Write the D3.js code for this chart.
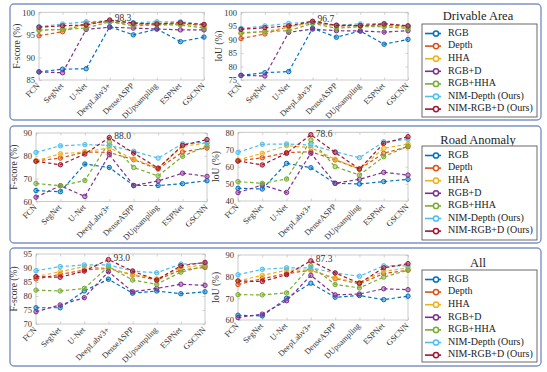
<!DOCTYPE html>
<html><head><meta charset="utf-8">
<script src="https://cdn.jsdelivr.net/npm/d3@7"></script>
<style>body{margin:0;background:#fff}svg{display:block}text{font-family:"Liberation Serif","Times New Roman",serif}</style>
</head><body><svg id="c" width="547" height="372"></svg>
<script>
const methods = ["FCN","SegNet","U-Net","DeepLabv3+","DenseASPP","DUpsampling","ESPNet","GSCNN"];
const seriesNames = ["RGB","Depth","HHA","RGB+D","RGB+HHA","NIM-Depth (Ours)","NIM-RGB+D (Ours)"];
const seriesColors = ["#0072BD","#D95319","#EDB120","#7E2F8E","#77AC30","#4DBEEE","#A2142F"];
const rowTitles = ["Drivable Area","Road Anomaly","All"];

// rows: series (RGB, Depth, HHA, RGB+D, RGB+HHA, NIM-Depth, NIM-RGB+D), cols: methods
const driveF = [
 [86.8,87.4,87.5,96.8,95.0,96.3,93.5,94.5],
 [94.8,95.7,97.6,97.9,97.4,97.4,97.4,97.2],
 [96.1,96.2,97.2,98.1,97.4,97.6,97.6,96.8],
 [86.8,86.6,96.2,96.7,96.5,96.3,96.1,96.1],
 [96.0,96.2,96.5,97.9,97.0,97.2,97.2,96.5],
 [96.8,97.4,97.9,98.1,97.7,97.9,97.9,97.3],
 [96.7,97.0,97.2,98.3,97.6,97.4,97.7,97.3]];
const driveI = [
 [76.7,77.7,78.1,94.1,90.8,93.1,88.2,90.0],
 [90.3,92.0,94.7,96.2,95.0,95.0,95.2,94.8],
 [92.5,92.9,94.5,96.5,95.0,95.2,95.3,94.3],
 [76.7,76.5,92.6,93.8,93.2,93.1,92.7,93.2],
 [92.2,92.9,93.2,95.9,94.1,94.7,94.7,94.0],
 [94.0,95.0,95.9,96.5,95.3,95.7,95.9,95.0],
 [93.7,94.3,95.0,96.7,95.2,95.1,95.7,95.0]];
const roadF = [
 [64.8,64.3,76.4,74.9,67.0,67.0,67.8,69.1],
 [77.8,79.0,81.7,81.5,78.3,74.2,81.7,83.4],
 [77.8,80.9,81.7,83.5,78.6,74.6,84.2,85.6],
 [61.9,66.9,62.2,80.5,67.0,69.0,72.4,71.0],
 [67.9,66.9,69.2,86.0,74.9,71.2,79.8,84.4],
 [81.5,84.4,84.9,84.6,82.0,79.0,85.3,85.9],
 [77.6,76.1,80.8,88.0,81.2,74.6,84.6,87.1]];
const roadI = [
 [47.4,47.0,61.9,59.4,50.3,49.9,51.3,52.6],
 [63.3,65.2,68.2,68.7,63.9,58.6,67.8,71.6],
 [63.9,67.8,72.2,71.1,64.3,58.6,70.7,73.2],
 [44.9,49.3,45.0,67.8,50.3,52.6,56.7,55.1],
 [51.3,50.3,52.8,75.5,60.0,55.1,65.8,72.0],
 [68.3,73.0,73.2,72.6,68.7,65.2,74.5,75.9],
 [63.3,61.0,67.8,78.6,68.3,58.6,73.6,77.4]];
const allF = [
 [75.8,75.8,81.8,86.0,81.0,81.8,80.8,81.5],
 [86.1,87.7,89.3,89.9,87.5,85.7,89.3,90.2],
 [86.9,88.7,90.5,89.9,87.7,86.1,90.1,91.1],
 [74.4,76.8,79.4,88.7,81.5,82.7,84.2,83.8],
 [82.1,81.8,82.7,90.5,85.7,84.2,88.5,90.7],
 [89.0,90.5,91.1,91.1,88.9,88.3,91.4,91.7],
 [86.9,86.7,88.9,93.0,88.9,85.7,90.8,92.0]];
const allI = [
 [62.2,61.9,70.0,77.0,70.5,71.3,69.4,71.0],
 [76.4,79.1,81.4,83.0,79.1,76.7,81.4,83.0],
 [78.0,80.6,83.0,83.0,79.4,77.2,82.5,84.0],
 [61.1,62.7,68.9,80.6,71.6,72.0,74.4,74.0],
 [71.7,71.6,72.5,85.0,76.4,74.8,79.8,83.0],
 [80.9,83.4,84.1,84.1,81.7,80.2,85.0,85.0],
 [78.0,77.8,80.9,87.3,81.7,77.0,84.1,86.0]];

const ticksDriveF = [85,90,95,100], ticksDriveI = [75,80,85,90,95,100];
const ticksRoadF = [60,70,80,90], ticksRoadI = [40,50,60,70,80];
const ticksAllF = [70,75,80,85,90,95], ticksAllI = [60,70,80,90];
const yLabels = ["F-score (%)","IoU (%)"];

const svg = d3.select("#c");

// layout (positions only)
const panelsBox = [[4,120],[126,243],[248,366]];
const legendBox = [[24,117],[146,240],[270,362]];
const titleY = [20,144,267];
const plots = [
 {data:driveF, ticks:ticksDriveF, x:[39,204], y:[12.3,80], lab:0},
 {data:driveI, ticks:ticksDriveI, x:[241,408], y:[12.3,80], lab:1},
 {data:roadF, ticks:ticksRoadF, x:[36,207], y:[133,201.5], lab:0},
 {data:roadI, ticks:ticksRoadI, x:[238,408], y:[132.3,201], lab:1},
 {data:allF, ticks:ticksAllF, x:[36,205], y:[254,324], lab:0},
 {data:allI, ticks:ticksAllI, x:[238,408], y:[255,320], lab:1}
];

panelsBox.forEach(b=>{
  svg.append("rect").attr("x",10).attr("y",b[0]).attr("width",531).attr("height",b[1]-b[0])
    .attr("rx",4).attr("fill","none").attr("stroke","#7f93c6").attr("stroke-width",1.4);
});

plots.forEach(p=>{
  const xs = d3.scalePoint().domain(methods).range(p.x).padding(0);
  const ys = d3.scaleLinear().domain(d3.extent(p.ticks)).range([p.y[1],p.y[0]]);
  const g = svg.append("g");
  g.append("rect").attr("x",p.x[0]).attr("y",p.y[0]).attr("width",p.x[1]-p.x[0]).attr("height",p.y[1]-p.y[0])
    .attr("fill","#fff").attr("stroke","#bdbdbd").attr("stroke-width",0.8);
  const tk = sel=>{sel.select(".domain").remove(); sel.selectAll("line").attr("stroke","#bdbdbd").attr("stroke-width",0.7);};
  g.append("g").attr("transform",`translate(${p.x[0]},0)`)
    .call(d3.axisLeft(ys).tickValues(p.ticks).tickSizeInner(-2.5).tickSizeOuter(0).tickPadding(4))
    .call(tk).selectAll("text").attr("font-family","Liberation Serif").attr("font-size",8.5).attr("fill","#333");
  g.append("g").attr("transform",`translate(${p.x[1]},0)`)
    .call(d3.axisRight(ys).tickValues(p.ticks).tickSizeInner(-2.5).tickSizeOuter(0).tickFormat(""))
    .call(tk);
  g.append("g").attr("transform",`translate(0,${p.y[1]})`)
    .call(d3.axisBottom(xs).tickSizeInner(-2.5).tickSizeOuter(0).tickFormat(""))
    .call(tk);
  g.append("g").attr("transform",`translate(0,${p.y[0]})`)
    .call(d3.axisTop(xs).tickSizeInner(-2.5).tickSizeOuter(0).tickFormat(""))
    .call(tk);
  methods.forEach(m=>{
    const tx = xs(m), ty = p.y[1]+5;
    g.append("text").attr("x",tx).attr("y",ty).attr("text-anchor","end").attr("dominant-baseline","middle")
      .attr("transform",`rotate(-45,${tx},${ty})`).attr("font-size",8.3).attr("fill","#333").text(m);
  });
  const ym = (p.y[0]+p.y[1])/2, yx = p.x[0]-21;
  g.append("text").attr("x",yx).attr("y",ym).attr("text-anchor","middle").attr("dominant-baseline","middle")
    .attr("transform",`rotate(-90,${yx},${ym})`).attr("font-size",9.5).attr("fill","#333").text(yLabels[p.lab]);

  const line = d3.line().x((d,i)=>xs(methods[i])).y(d=>ys(d));
  p.data.forEach((vals,si)=>{
    g.append("path").attr("d",line(vals)).attr("fill","none").attr("stroke",seriesColors[si])
      .attr("stroke-width",1.2).attr("stroke-dasharray","3.5,2.5");
    g.selectAll(null).data(vals).enter().append("circle")
      .attr("cx",(d,i)=>xs(methods[i])).attr("cy",d=>ys(d)).attr("r",2.2)
      .attr("fill",seriesColors[si]).attr("fill-opacity",0.45)
      .attr("stroke",seriesColors[si]).attr("stroke-width",1);
  });
  const mi = methods.indexOf("DeepLabv3+");
  const best = d3.max(p.data, s=>s[mi]);
  const px = xs(methods[mi]), py = ys(best);
  g.append("text").attr("x",px+5).attr("y",Math.max(py-1,p.y[0]+3)).attr("dominant-baseline","middle")
    .attr("font-size",9.5).attr("fill","#333").text(best.toFixed(1));
});

legendBox.forEach((b,ri)=>{
  svg.append("text").attr("x",478).attr("y",titleY[ri]).attr("text-anchor","middle")
    .attr("font-size",12.5).attr("fill","#222").text(rowTitles[ri]);
  svg.append("rect").attr("x",422).attr("y",b[0]).attr("width",115).attr("height",b[1]-b[0])
    .attr("fill","#fff").attr("stroke","#444").attr("stroke-width",0.8);
  seriesNames.forEach((n,si)=>{
    const ly = b[0]+9.5+si*12.6;
    svg.append("line").attr("x1",425).attr("x2",441).attr("y1",ly).attr("y2",ly)
      .attr("stroke",seriesColors[si]).attr("stroke-width",1.6);
    svg.append("circle").attr("cx",436).attr("cy",ly).attr("r",2.6).attr("fill","#fff")
      .attr("stroke",seriesColors[si]).attr("stroke-width",1.5);
    svg.append("text").attr("x",448).attr("y",ly).attr("dominant-baseline","middle")
      .attr("font-size",10).attr("fill","#222").text(n);
  });
});
</script></body></html>
